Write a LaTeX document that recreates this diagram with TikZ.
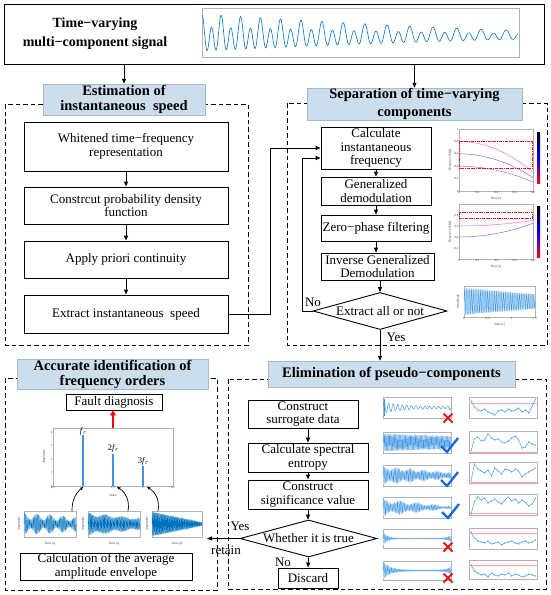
\documentclass[tikz,border=0pt]{standalone}
\usepackage{fontspec}
\setmainfont{Liberation Serif}
\usetikzlibrary{arrows.meta,shapes.geometric}
\definecolor{hdrfill}{RGB}{204,221,235}
\definecolor{hdrline}{RGB}{165,185,205}
\definecolor{sigblue}{RGB}{0,114,189}
\definecolor{lblue}{RGB}{60,150,225}
\definecolor{chkblue}{RGB}{20,110,210}
\definecolor{xred}{RGB}{230,20,30}
\definecolor{tfpink}{RGB}{235,110,235}
\definecolor{tfviolet}{RGB}{120,110,245}
\definecolor{tfpurple}{RGB}{175,100,235}
\newcommand\mydline[2]{%
  \draw[lblue,line width=0.45pt] (2,#1) \foreach \v [count=\i] in {#2} { -- ({2+\i*3.4},\v) };
  \fill[lblue] (2,#1) circle (0.6pt) \foreach \v [count=\i] in {#2} { ({2+\i*3.4},\v) circle (0.6pt) };}
\newcommand\envsig[6]{% width, center, amp expr, cycles, colour, fill strength
  \fill[#5!#6] plot[domain=0:#1,samples=70] (\x,{#2-(#3)}) -- plot[domain=#1:0,samples=70] (\x,{#2+(#3)}) -- cycle;
  \draw[#5, line width=0.25pt] plot[domain=0:#1,samples=520] (\x,{#2-(#3)*sin(360*mod(#4*\x/#1,1))});}
\begin{document}
\begin{tikzpicture}[x=1pt,y=-1pt,
  pbox/.style={draw, line width=0.9pt, fill=white, align=center, inner sep=0pt, font=\fontsize{13}{13.8}\selectfont},
  hdr/.style={fill=hdrfill, draw=hdrline, line width=0.5pt, align=center, inner sep=0pt, font=\bfseries\fontsize{14.5}{15}\selectfont},
  grp/.style={draw, line width=0.9pt, dash pattern=on 4.5pt off 3pt},
  arr/.style={-{Triangle[length=5pt,width=4pt]}, line width=0.9pt},
  carr/.style={-{Stealth[length=3.5pt,width=3pt]}, line width=0.7pt},
  dia/.style={draw, line width=0.9pt, fill=white, shape=diamond, aspect=3.6, inner sep=0pt, font=\fontsize{13}{13.8}\selectfont},
  axbox/.style={draw=gray!60, line width=0.3pt, fill=white},
  tinyt/.style={font=\fontsize{3.2}{3.6}\selectfont, text=gray!40!black, inner sep=0.4pt},
  lbl/.style={font=\fontsize{13}{14}\selectfont, inner sep=0.5pt},
  ddot/.style={xred, line width=0.7pt, dash pattern=on 3pt off 1pt on 0.6pt off 1pt},
  cbar/.style={top color=black, bottom color=red, middle color=blue}
]
\useasboundingbox (0,0) rectangle (550,595);
\fill[white] (0,0) rectangle (550,595);

% ================= TOP =================
\node[draw, line width=0.9pt, minimum width=540pt, minimum height=60pt, inner sep=0pt] (top) at (274,34) {};
\node[font=\bfseries\fontsize{14}{19}\selectfont, align=center, inner sep=0pt] (toptxt) at (95,34) {Time−varying\\multi−component signal};
\begin{scope}[shift={(202,8)}]
  \draw[axbox] (0,0) rectangle (317,49);
  \draw[sigblue, line width=0.6pt] plot[domain=0.5:316, samples=800]
    (\x, {27.5 - (0.25+0.75*(1-\x/317)^1.3)*(6.5*cos(360*(16.7*\x/317-2.2*(\x/317)^2)) + 15*cos(720*(16.7*\x/317-2.2*(\x/317)^2)))});
\end{scope}

% ================= ESTIMATION =================
\draw[grp] (5,104) rectangle (248,345);
\node[hdr, minimum width=162pt, minimum height=31pt] (est) at (124,99.5) {Estimation of\\instantaneous\ \ speed};
\node[pbox, minimum width=204pt, minimum height=49pt] (e1) at (126,146.5) {Whitened time−frequency\\representation};
\node[pbox, minimum width=204pt, minimum height=37pt] (e2) at (126,205.5) {Constrcut probability density\\function};
\node[pbox, minimum width=204pt, minimum height=37pt] (e3) at (126,259.5) {Apply priori continuity};
\node[pbox, minimum width=204pt, minimum height=38pt] (e4) at (126,314) {Extract instantaneous\ \ speed};
\draw[arr] (e1) -- (e2);
\draw[arr] (e2) -- (e3);
\draw[arr] (e3) -- (e4);
\draw[arr] (top.south -| est.north) -- (est.north);

% ================= SEPARATION =================
\draw[grp] (287,103) rectangle (547,345);
\node[hdr, minimum width=215pt, minimum height=32pt, font=\bfseries\fontsize{14.5}{17.5}\selectfont] (sep) at (414.5,104) {Separation of time−varying\\components};
\draw[arr] (top.south -| sep.north) -- (sep.north);
\node[pbox, minimum width=110pt, minimum height=42pt] (s1) at (376,148) {Calculate\\instantaneous\\frequency};
\node[pbox, minimum width=110pt, minimum height=28pt] (s2) at (376,191) {Generalized\\demodulation};
\node[pbox, minimum width=110pt, minimum height=26pt] (s3) at (376,228) {Zero−phase filtering};
\node[pbox, minimum width=113pt, minimum height=27pt] (s4) at (377.5,266.5) {Inverse Generalized\\Demodulation};
\node[dia, minimum width=134pt, minimum height=37pt] (s5) at (380,311) {Extract all or not};
\draw[arr] (s1) -- (s2);
\draw[arr] (s2) -- (s3);
\draw[arr] (s3.south) -- (s3.south |- s4.north);
\draw[arr] (s4.south -| s5.north) -- (s5.north);
\draw[arr] (e4.east) -- ++(42,0) |- (s1.west);
\draw[arr] (s5.west) -- ++(-10,0) |- ([yshift=-10pt]s1.west);
\node[lbl] (no1) at (313,302) {No};

% TF plot 1
\begin{scope}[shift={(459,129)}]
  \draw[axbox] (0,0) rectangle (74,62);
  \draw[tfpink, line width=0.5pt] plot[domain=0:0.8, samples=30] ({92.5*\x},{62*(1-(0.8-0.78*\x*\x))});
  \draw[tfviolet, line width=0.5pt] plot[domain=0:0.8, samples=30] ({92.5*\x},{62*(1-(0.6-0.6*\x*\x))});
  \draw[tfpurple, line width=0.5pt] plot[domain=0:0.8, samples=30] ({92.5*\x},{62*(1-(0.4-0.4*\x*\x))});
  \draw[ddot] (0.5,12.4) rectangle (73.5,39);
  \foreach \t/\l in {0/0,18.5/0.2,37/0.4,55.5/0.6,74/0.8} \node[tinyt, below] at (\t,62) {\l};
  \foreach \t/\l in {0/1,12.4/0.8,24.8/0.6,37.2/0.4,49.6/0.2,62/0} \node[tinyt, left] at (0,\t) {\l};
  \node[tinyt] at (37,70) {Time [s]};
  \node[tinyt, rotate=90] at (-9,31) {Frequency [kHz]};
\end{scope}
\shade[cbar] (537,132) rectangle (540,183);
% TF plot 2
\begin{scope}[shift={(459,204)}]
  \draw[axbox] (0,0) rectangle (74,55);
  \draw[tfpink, line width=0.5pt] plot[domain=0:0.8, samples=30] ({92.5*\x},{55*(1-(0.6+0.16*\x*\x))});
  \draw[tfviolet, line width=0.5pt] plot[domain=0:0.8, samples=30] ({92.5*\x},{55*(1-(0.4+0.39*\x*\x))});
  \draw[ddot] (0.5,8) rectangle (73.5,14);
  \foreach \t/\l in {0/0,18.5/0.2,37/0.4,55.5/0.6,74/0.8} \node[tinyt, below] at (\t,55) {\l};
  \foreach \t/\l in {11/0.8,22/0.6,33/0.4,44/0.2} \node[tinyt, left] at (0,\t) {\l};
  \node[tinyt] at (37,63) {Time [s]};
  \node[tinyt, rotate=90] at (-9,28) {Frequency [kHz]};
\end{scope}
\shade[cbar] (537,206) rectangle (540,257);
% amplitude plot
\begin{scope}[shift={(464,286)}]
  \draw[axbox] (0,0) rectangle (71,31);
  \envsig{71}{15.5}{13-6*\x/71}{40}{lblue}{25}
  \foreach \t/\l in {0/0,23.7/0.5,47.3/1,71/1.5} \node[tinyt, below] at (\t,31) {\l};
  \node[tinyt] at (35.5,39) {Time [s]};
  \node[tinyt, rotate=90] at (-6,15.5) {Amplitude};
\end{scope}

% ================= ELIMINATION =================
\draw[grp] (228,379) rectangle (546,589);
\node[hdr, minimum width=247pt, minimum height=26pt] (el) at (391.5,374) {Elimination of pseudo−components};
\draw[arr] (s5.south) -- (s5.south |- el.north);
\node[lbl] (yes1) at (396,337) {Yes};
\node[pbox, minimum width=110pt, minimum height=28pt] (m1) at (303,414) {Construct\\surrogate data};
\node[pbox, minimum width=120pt, minimum height=29pt] (m2) at (308,457.5) {Calculate spectral\\entropy};
\node[pbox, minimum width=120pt, minimum height=29pt] (m3) at (308,494.5) {Construct\\significance value};
\node[dia, minimum width=137pt, minimum height=37pt] (m4) at (308.5,538.5) {Whether it is true};
\node[pbox, minimum width=60pt, minimum height=20pt] (m5) at (308,578) {Discard};
\draw[arr] (m2.north |- m1.south) -- (m2.north);
\draw[arr] (m2) -- (m3);
\draw[arr] (m3.south) -- (m3.south |- m4.north);
\draw[arr] (m4.south) -- (m5.north);
\node[lbl] (no2) at (283,562) {No};
\coordinate (ret) at (207,538.5);
\draw[arr] (m4.west) -- (ret);
\node[lbl] (yes2) at (240,526) {Yes};
\node[lbl] (retain) at (226,550) {retain};

% column 1 signals
\begin{scope}[shift={(383,397)}]
  \draw[axbox] (0,0) rectangle (68,21);
  \draw[lblue, line width=0.45pt] plot[domain=0:68,samples=260] (\x,{10.5-(0.8+5*exp(-\x/20)+2*exp(-(68-\x)/3))*sin(360*mod(15*\x/68,1))});
  \draw[lblue, line width=0.45pt] (0.8,2) -- (0.8,19);
\end{scope}
\begin{scope}[shift={(383,432)}]
  \draw[axbox] (0,0) rectangle (68,21);
  \envsig{68}{10.5}{8.5-2.5*\x/68}{55}{lblue}{15}
\end{scope}
\begin{scope}[shift={(383,465)}]
  \draw[axbox] (0,0) rectangle (68,21);
  \envsig{68}{10.5}{(9-6*\x/68)*(0.8+0.2*cos(5*\x/68*360))}{50}{lblue}{15}
\end{scope}
\begin{scope}[shift={(383,497)}]
  \draw[axbox] (0,0) rectangle (68,21);
  \envsig{68}{10.5}{(8.5-7.5*\x/68)*(0.75+0.25*cos(4*\x/68*360))}{48}{lblue}{15}
\end{scope}
\begin{scope}[shift={(383,529)}]
  \draw[axbox] (0,0) rectangle (68,19);
  \envsig{68}{9.5}{0.4+6.5*exp(-\x/4)+3*exp(-(68-\x)/4)}{50}{lblue}{15}
\end{scope}
\begin{scope}[shift={(383,561)}]
  \draw[axbox] (0,0) rectangle (68,19);
  \envsig{68}{9.5}{0.6+8*exp(-\x/7)+3.5*exp(-(68-\x)/4)}{50}{lblue}{15}
\end{scope}
% marks
\draw[xred, line width=1.9pt] (448,418) +(-4.5,-4.5) -- +(4.5,4.5) +(-4.5,4.5) -- +(4.5,-4.5);
\draw[xred, line width=1.9pt] (448,547) +(-4.5,-4.5) -- +(4.5,4.5) +(-4.5,4.5) -- +(4.5,-4.5);
\draw[xred, line width=1.9pt] (448,578) +(-4.5,-4.5) -- +(4.5,4.5) +(-4.5,4.5) -- +(4.5,-4.5);
\draw[chkblue, line width=2.4pt, line join=round] (441,446) -- (447,452) -- (458,438);
\draw[chkblue, line width=2.4pt, line join=round] (441,480) -- (447,486) -- (458,472);
\draw[chkblue, line width=2.4pt, line join=round] (442,512) -- (448,518) -- (459,504);
% column 2 line charts
\begin{scope}[shift={(469,397)}]
  \draw[axbox] (0,0) rectangle (68,21);
  \draw[red!35, line width=0.6pt] (0,6) -- (68,6);
  \mydline{4}{10,13,14,12,15,16,18,14,13,15,12,14,13,11,15,13,16,9,2}
\end{scope}
\begin{scope}[shift={(469,431)}]
  \draw[axbox] (0,0) rectangle (68,22);
  \draw[red!35, line width=0.6pt] (0,21) -- (68,21);
  \mydline{20}{8,6,10,9,3,7,9,8,11,12,10,7,5,9,17,16,11,13,14}
\end{scope}
\begin{scope}[shift={(469,462)}]
  \draw[axbox] (0,0) rectangle (68,21);
  \draw[red!35, line width=0.6pt] (0,20) -- (68,20);
  \mydline{19}{2,7,9,11,8,14,6,9,12,7,8,10,7,9,15,12,10,8,6}
\end{scope}
\begin{scope}[shift={(469,494)}]
  \draw[axbox] (0,0) rectangle (68,21);
  \draw[red!35, line width=0.6pt] (0,19) -- (68,19);
  \mydline{20}{8,3,6,4,9,7,5,8,10,6,3,7,5,9,6,8,12,10,4}
\end{scope}
\begin{scope}[shift={(469,528)}]
  \draw[axbox] (0,0) rectangle (68,21);
  \draw[red!35, line width=0.6pt] (0,5) -- (68,5);
  \mydline{4}{10,13,14,15,13,16,15,14,17,15,14,13,15,16,14,13,15,14,12}
\end{scope}
\begin{scope}[shift={(469,560)}]
  \draw[axbox] (0,0) rectangle (68,19);
  \draw[red!35, line width=0.6pt] (0,5) -- (68,5);
  \mydline{5}{11,13,15,14,17,13,15,16,14,15,13,16,14,15,17,16,14,15,16}
\end{scope}

% ================= ACCURATE =================
\draw[grp] (5,378) rectangle (217,590);
\node[hdr, minimum width=191pt, minimum height=30pt] (acc) at (112.5,374) {Accurate identification of\\frequency orders};
\node[pbox, minimum width=96pt, minimum height=16pt] (fd) at (114,402) {Fault diagnosis};
\node[pbox, minimum width=172pt, minimum height=27pt] (avg) at (106,566.5) {Calculation of the average\\amplitude envelope};
% spectrum
\begin{scope}[shift={(53,428)}]
  \draw[axbox] (0,0) rectangle (120,58);
  \foreach \o/\l in {0/0.5,30/1,60/1.5,90/2,120/2.5} \node[tinyt, below] at (\o,58) {\l};
  \foreach \a in {0,...,4} \node[tinyt, left] at (0,{58-13.5*\a}) {\a};
  \node[tinyt] at (60,67) {Order};
  \node[tinyt, rotate=90] at (-9,29) {Amplitude};
  \draw[lblue, line width=1.1pt] (30,58) -- (30,6.7);
  \draw[lblue, line width=1.1pt] (60,58) -- (60,25.6);
  \draw[lblue, line width=1.1pt] (90,58) -- (90,37.8);
  \node[font=\fontsize{8.5}{9}\selectfont, inner sep=0pt] at (30,3) {\textit{f}\textsubscript{\textit{r}}};
  \node[font=\fontsize{8.5}{9}\selectfont, inner sep=0pt] at (60,20) {2\textit{f}\textsubscript{\textit{r}}};
  \node[font=\fontsize{8.5}{9}\selectfont, inner sep=0pt] at (90,33) {3\textit{f}\textsubscript{\textit{r}}};
\end{scope}
\coordinate (spt) at (113,428);
\draw[-{Triangle[length=5pt,width=6pt]}, red, line width=2.2pt] (spt) -- (spt |- fd.south);
% three envelope plots
\begin{scope}[shift={(24,511)}]
  \draw[axbox] (0,0) rectangle (52,26);
  \envsig{52}{13}{(11-4*\x/52)*(0.7+0.3*cos(4*\x/52*360))}{40}{sigblue}{20}
  \node[tinyt] at (26,33) {Time [s]};
  \node[tinyt, rotate=90] at (-5,13) {Amplitude};
\end{scope}
\begin{scope}[shift={(88,511)}]
  \draw[axbox] (0,0) rectangle (52,26);
  \envsig{52}{13}{(11.5-6*\x/52)*(0.85+0.15*cos(3*\x/52*360))}{48}{sigblue}{20}
  \node[tinyt] at (26,33) {Time [s]};
  \node[tinyt, rotate=90] at (-5,13) {Amplitude};
\end{scope}
\begin{scope}[shift={(152,511)}]
  \draw[axbox] (0,0) rectangle (50,26);
  \envsig{50}{13}{12-10.5*\x/50}{55}{sigblue}{30}
  \node[tinyt] at (25,33) {Time [s]};
  \node[tinyt, rotate=90] at (-5,13) {Amplitude};
\end{scope}
\coordinate (p1t) at (72,511);
\coordinate (p2t) at (128,511);
\coordinate (p3t) at (158,511);
\coordinate (l1) at (83,487);
\coordinate (l2) at (117,487);
\coordinate (l3) at (147,487);
\draw[carr] (p1t) to[bend left=25] (l1);
\draw[carr] (p2t) to[bend right=35] (l2);
\draw[carr] (p3t) to[bend right=35] (l3);
\end{tikzpicture}
\end{document}
